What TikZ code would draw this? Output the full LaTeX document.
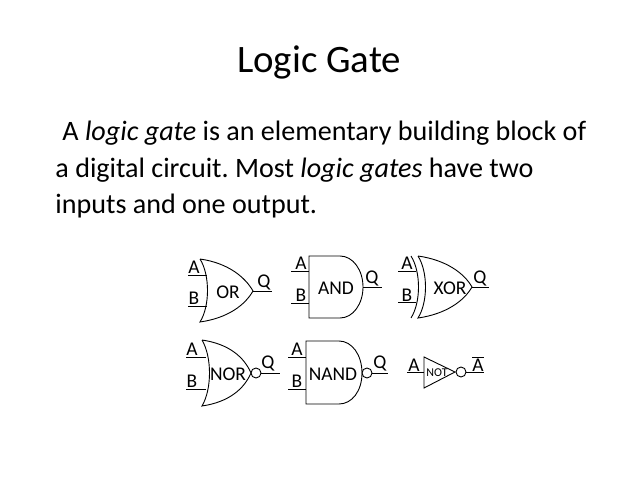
\documentclass[tikz,border=0pt]{standalone}
\usepackage{fontspec}
\setmainfont{Carlito}
\frenchspacing
\begin{document}
\begin{tikzpicture}[x=1bp,y=-1bp,line width=0.9bp,
  lbl/.style={inner sep=0pt,font=\fontsize{19.5}{20}\selectfont},
  body/.style={anchor=base west,inner sep=0pt,font=\fontsize{28.2}{30}\selectfont}]
\useasboundingbox (0,0) rectangle (638,479);
\node[inner sep=0pt,font=\fontsize{39}{44}\selectfont] (title) at (319,62) {Logic Gate};
\node[body] (l1) at (62,141) {A \textit{logic gate} is an elementary building block of};
\node[body] (l2) at (55,178) {a digital circuit. Most \textit{logic gates} have two};
\node[body] (l3) at (55,214) {inputs and one output.};
% OR
\draw (200,259) .. controls (210,275) and (210,306) .. (200,322)
  .. controls (228,318) and (245,305) .. (253,291)
  .. controls (245,277) and (228,263) .. (200,259);
\draw (188,275) -- (207,275) (188,306) -- (207,306) (253,291) -- (272,291);
\node[lbl] (orA) at (194,267) {A}; \node[lbl] (orB) at (194,298) {B};
\node[lbl] (orQ) at (264,282) {Q}; \node[lbl] (or) at (228,292) {OR};
% AND
\draw (309,256) -- (340,256) .. controls (353,256) and (363,270) .. (363,287)
  .. controls (363,304) and (353,318) .. (340,318) -- (309,318) -- cycle;
\draw (291,271) -- (309,271) (291,303) -- (309,303) (363,287) -- (382,287);
\node[lbl] (andA) at (301,263) {A}; \node[lbl] (andB) at (301,295) {B};
\node[lbl] (andQ) at (372,278) {Q}; \node[lbl] (and) at (336,288) {AND};
% XOR
\draw (418,256) .. controls (428,272) and (428,302) .. (418,318)
  .. controls (446,314) and (464,301) .. (472,287)
  .. controls (464,273) and (446,260) .. (418,256);
\draw (411,256) .. controls (421,272) and (421,302) .. (411,318);
\draw (398,271) -- (416,271) (398,302) -- (416,302) (472,287) -- (489,287);
\node[lbl] (xorA) at (407,263) {A}; \node[lbl] (xorB) at (407,295) {B};
\node[lbl] (xorQ) at (480,278) {Q}; \node[lbl] (xor) at (450,288) {XOR};
% NOR
\draw (202,340) .. controls (212,357) and (212,389) .. (202,406)
  .. controls (229,402) and (244,389) .. (251,373)
  .. controls (244,357) and (229,344) .. (202,340);
\draw (256,373) circle (5);
\draw (186,357) -- (206,357) (186,389) -- (206,389) (261,373) -- (280,373);
\node[lbl] (norA) at (192,349) {A}; \node[lbl] (norB) at (192,381) {B};
\node[lbl] (norQ) at (268,363) {Q}; \node[lbl] (nor) at (228,374) {NOR};
% NAND
\draw (306,341) -- (339,341) .. controls (352,341) and (362,355) .. (362,373)
  .. controls (362,391) and (352,404) .. (339,404) -- (306,404) -- cycle;
\draw (367,373) circle (5);
\draw (288,357) -- (306,357) (288,389) -- (306,389) (372,373) -- (388,373);
\node[lbl] (nandA) at (297,349) {A}; \node[lbl] (nandB) at (297,381) {B};
\node[lbl] (nandQ) at (380,363) {Q}; \node[lbl] (nand) at (333,374) {NAND};
% NOT
\draw (424,357) -- (455,372) -- (424,388) -- cycle;
\draw (461,372) circle (5);
\draw (407,372) -- (424,372) (466,372) -- (484,372);
\node[lbl] (notA) at (414,365) {A}; \node[lbl] (notQ) at (478,364) {$\overline{\mbox{A}}$};
\node[inner sep=0pt,font=\fontsize{12}{12}\selectfont] (not) at (437,373) {NOT};
\end{tikzpicture}
\end{document}
